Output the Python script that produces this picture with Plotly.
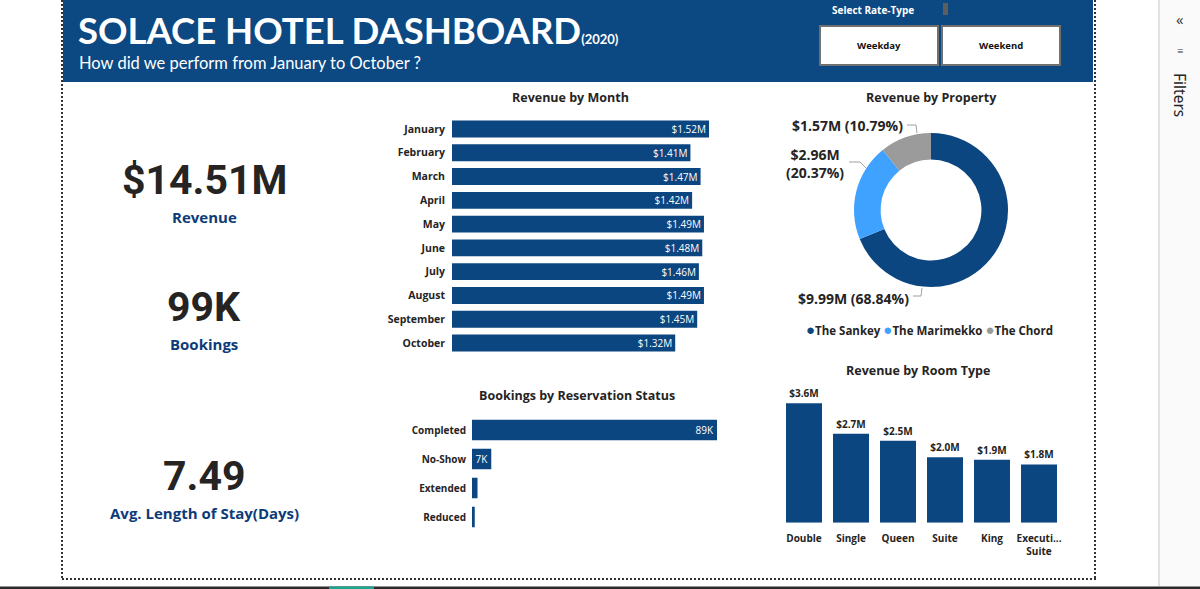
import plotly.graph_objects as go

W, H = 1200, 589

# ---------------- data ----------------
months = ["January", "February", "March", "April", "May", "June",
          "July", "August", "September", "October"]
month_revenue_m = [1.52, 1.41, 1.47, 1.42, 1.49, 1.48, 1.46, 1.49, 1.45, 1.32]

properties = ["The Sankey", "The Marimekko", "The Chord"]
property_revenue_m = [9.989, 2.956, 1.566]

statuses = ["Completed", "No-Show", "Extended", "Reduced"]
status_bookings_k = [89, 7, 2, 1]
status_labels = ["89K", "7K", "", ""]

room_types = ["Double", "Single", "Queen", "Suite", "King", "Executive Suite"]
room_revenue_m = [3.63, 2.70, 2.49, 1.99, 1.91, 1.77]
room_ticktext = ["Double", "Single", "Queen", "Suite", "King", "Executi...<br>Suite"]

kpi_values = ["$14.51M", "99K", "7.49"]
kpi_labels = ["Revenue", "Bookings", "Avg. Length of Stay(Days)"]

# ---------------- styling ----------------
BLUE = "#0B4680"
LBLUE = "#3FA2FF"
GRAY = "#9B9B9B"
DARK = "#252423"
NAVY = "#0D3B78"
FONT = "Open Sans"


def px(x):
    return x / W


def py(y):
    return 1 - y / H


fig = go.Figure()

# Revenue by Month
fig.add_trace(go.Bar(
    x=month_revenue_m, y=months, orientation="h",
    marker=dict(color=BLUE, line=dict(width=0)),
    texttemplate="$%{x:.2f}M", textposition="inside", insidetextanchor="end",
    constraintext="none",
    textfont=dict(color="white", size=10, family=FONT),
    xaxis="x", yaxis="y", showlegend=False, hoverinfo="skip"))

# Bookings by Reservation Status
fig.add_trace(go.Bar(
    x=status_bookings_k, y=statuses, orientation="h",
    marker=dict(color=BLUE, line=dict(width=0)),
    text=status_labels, textposition="inside", insidetextanchor="end",
    constraintext="none",
    textfont=dict(color="white", size=10, family=FONT),
    xaxis="x2", yaxis="y2", showlegend=False, hoverinfo="skip"))

# Revenue by Room Type
fig.add_trace(go.Bar(
    x=room_types, y=room_revenue_m,
    marker=dict(color=BLUE, line=dict(width=0)),
    texttemplate="$%{y:.1f}M", textposition="outside", cliponaxis=False,
    textfont=dict(color=DARK, size=10, family=FONT, weight="bold"),
    xaxis="x3", yaxis="y3", showlegend=False, hoverinfo="skip"))

# Revenue by Property (donut)
fig.add_trace(go.Pie(
    labels=properties, values=property_revenue_m, hole=0.655,
    sort=False, direction="clockwise", rotation=0,
    marker=dict(colors=[BLUE, LBLUE, GRAY], line=dict(width=0)),
    textinfo="none", showlegend=False, hoverinfo="skip",
    domain=dict(x=[px(854), px(1008)], y=[py(287), py(133)])))

axis_off = dict(showgrid=False, zeroline=False, showticklabels=False,
                showline=False, ticks="")

tickf = dict(family=FONT, size=10.5, color=DARK, weight="bold")

fig.update_layout(
    width=W, height=H,
    margin=dict(l=0, r=0, t=0, b=0),
    paper_bgcolor="white", plot_bgcolor="rgba(0,0,0,0)",
    font=dict(family=FONT, color=DARK),
    bargap=0.29,
    xaxis=dict(domain=[px(452), px(720)], range=[0, 268 / 169.1], anchor="y", **axis_off),
    yaxis=dict(domain=[py(354.9), py(117.1)], categoryorder="array",
               categoryarray=months[::-1], anchor="x", showgrid=False,
               zeroline=False, showline=False, ticks="", tickfont=tickf,
               ticklabelstandoff=6),
    xaxis2=dict(domain=[px(472), px(730)], range=[0, 258 / 2.753], anchor="y2", **axis_off),
    yaxis2=dict(domain=[py(531.5), py(415.5)], categoryorder="array",
                categoryarray=statuses[::-1], anchor="x2", showgrid=False,
                zeroline=False, showline=False, ticks="",
                tickfont=dict(family=FONT, size=10, color=DARK, weight="bold"),
                ticklabelstandoff=5),
    xaxis3=dict(domain=[px(780.5), px(1062.5)], anchor="y3", showgrid=False,
                zeroline=False, showline=False, ticks="",
                tickmode="array", tickvals=room_types, ticktext=room_ticktext,
                tickfont=dict(family=FONT, size=10, color=DARK, weight="bold"),
                ticklabelstandoff=8),
    yaxis3=dict(domain=[py(522.7), py(380)], range=[0, 142.7 / 32.9],
                anchor="x3", **axis_off),
)
fig.update_traces(selector=dict(xaxis="x3"), width=0.766)

shapes = []
annotations = []


def text(x, y, t, size, color=DARK, bold=True, xanchor="center", yanchor="middle",
         family=FONT, angle=0):
    annotations.append(dict(
        x=px(x), y=py(y), xref="paper", yref="paper", text=t, showarrow=False,
        xanchor=xanchor, yanchor=yanchor, textangle=angle,
        font=dict(family=family, size=size, color=color,
                  weight="bold" if bold else "normal")))


# Header band
shapes.append(dict(type="rect", xref="paper", yref="paper", x0=px(63), x1=px(1093),
                   y0=py(82), y1=py(0), fillcolor="#0C4882", line=dict(width=0),
                   layer="below"))
text(76, 30, "SOLACE HOTEL DASHBOARD<span style='font-size:13px'>(2020)</span>",
     36.5, color="white", xanchor="left", family="Lato")
text(77, 63, "How did we perform from January to October ?", 16.5, color="white",
     bold=False, xanchor="left", family="Lato")

# Slicer
text(873, 10, "Select Rate-Type", 10, color="white")
shapes.append(dict(type="rect", xref="paper", yref="paper", x0=px(943), x1=px(948),
                   y0=py(15), y1=py(3), fillcolor="#5E5E5E", line=dict(width=0)))
for x0, x1, lab in [(820, 938, "Weekday"), (942, 1060, "Weekend")]:
    shapes.append(dict(type="rect", xref="paper", yref="paper", x0=px(x0), x1=px(x1),
                       y0=py(65), y1=py(26), fillcolor="white",
                       line=dict(color="#707070", width=2)))
    text((x0 + x1) / 2, 46, lab, 9.5, color="#111111")

# Dotted frame
dot = dict(color="#333333", width=2, dash="2px,2px")
shapes.append(dict(type="line", xref="paper", yref="paper", x0=px(62), x1=px(62),
                   y0=py(0), y1=py(579), line=dot))
shapes.append(dict(type="line", xref="paper", yref="paper", x0=px(62), x1=px(1096),
                   y0=py(579), y1=py(579), line=dot))
shapes.append(dict(type="line", xref="paper", yref="paper", x0=px(1095), x1=px(1095),
                   y0=py(0), y1=py(579), line=dot))

# Filters pane
shapes.append(dict(type="rect", xref="paper", yref="paper", x0=px(1160), x1=px(1200),
                   y0=py(586), y1=py(0), fillcolor="#FAFAFA", line=dict(width=0),
                   layer="below"))
shapes.append(dict(type="line", xref="paper", yref="paper", x0=px(1159), x1=px(1159),
                   y0=py(586), y1=py(0), line=dict(color="#C4C4C4", width=1)))
text(1179, 19, "«", 15, color="#333333", bold=False)
text(1180, 50, "≡", 11, color="#333333", bold=False)
text(1180, 95, "Filters", 15.5, color="#252423", bold=False, angle=90, family="Noto Sans")

# Bottom bar
shapes.append(dict(type="rect", xref="paper", yref="paper", x0=0, x1=1,
                   y0=0, y1=py(586.5), fillcolor="#2B2B2B", line=dict(width=0)))
shapes.append(dict(type="rect", xref="paper", yref="paper", x0=px(329), x1=px(374),
                   y0=0, y1=py(586.5), fillcolor="#1FA58E", line=dict(width=0)))

# KPI cards
for (vy, ly), v, lab in zip([(180, 217), (307, 344), (476, 513)], kpi_values, kpi_labels):
    text(204, vy, v, 41, color=DARK, family="Roboto")
    text(204, ly, lab, 15, color=NAVY)

# Chart titles
text(570, 97, "Revenue by Month", 12.5)
text(931, 97, "Revenue by Property", 12.5)
text(577, 395, "Bookings by Reservation Status", 12.5)
text(918, 371, "Revenue by Room Type", 12.5)

# Donut labels
tot = sum(property_revenue_m)
pct = [v / tot * 100 for v in property_revenue_m]
lab_sankey = f"${property_revenue_m[0]:.2f}M ({pct[0]:.2f}%)"
lab_mari = f"${property_revenue_m[1]:.2f}M<br>({pct[1]:.2f}%)"
lab_chord = f"${property_revenue_m[2]:.2f}M ({pct[2]:.2f}%)"
text(905, 125, lab_chord, 14, xanchor="right")
text(846, 164, lab_mari, 14, xanchor="right")
text(911, 298, lab_sankey, 14, xanchor="right")
lead = dict(color="#A0A0A0", width=1)
for pts in [[(907, 125), (916, 125), (917, 133)],
            [(849, 162), (860, 162), (866, 168)],
            [(913, 296), (921, 296), (922, 288)]]:
    path = "M " + " L ".join(f"{px(a)} {py(b)}" for a, b in pts)
    shapes.append(dict(type="path", xref="paper", yref="paper", path=path, line=lead))

# Donut legend
leg = " ".join(f"<span style='color:{c};font-size:15px'>●</span>{n}"
               for c, n in zip([BLUE, LBLUE, GRAY], properties))
text(929, 329, leg, 11.5)

fig.update_layout(shapes=shapes, annotations=annotations)
fig.write_html("out.html")
